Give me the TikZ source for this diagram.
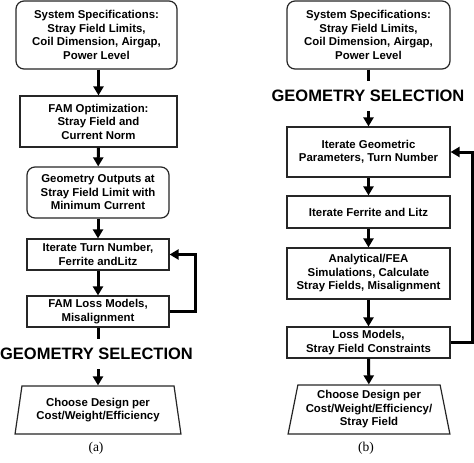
\documentclass[tikz,border=0pt]{standalone}
\usepackage{fontspec}
\setmainfont{Liberation Sans}
\newfontfamily\capfont{Liberation Serif}
\usetikzlibrary{arrows.meta,shapes.geometric}
\begin{document}
\begin{tikzpicture}[x=1pt,y=-1pt,
  boxbase/.style={draw=black!85,line width=1.2pt,fill=white,align=center,
    font=\fontsize{11.4}{13.5}\selectfont\bfseries,inner sep=0pt},
  rbox/.style={boxbase,rounded corners=8pt},
  sbox/.style={boxbase},
  tbox/.style={boxbase,trapezium,trapezium stretches=true,trapezium angle=77},
  gsel/.style={font=\fontsize{16.5}{18}\selectfont\bfseries,inner xsep=0pt,inner ysep=9pt},
  flow/.style={line width=3pt,-{Triangle[width=10pt,length=9pt]}},
  stub/.style={line width=3pt},
  captext/.style={font=\capfont\fontsize{13.5}{15}\selectfont}]
\useasboundingbox (0,0) rectangle (474,463);
% ---- left (a)
\node[rbox,minimum width=161pt,minimum height=68pt] (L1) at (96.5,35)
  {System Specifications:\\Stray Field Limits,\\Coil Dimension, Airgap,\\Power Level};
\node[sbox,minimum width=157pt,minimum height=51pt] (L2) at (98.5,121.5)
  {FAM Optimization:\\Stray Field and\\Current Norm};
\node[rbox,minimum width=142pt,minimum height=51pt] (L3) at (98,192.5)
  {Geometry Outputs at\\Stray Field Limit with\\Minimum Current};
\node[sbox,minimum width=142pt,minimum height=31pt] (L4) at (98,254.5)
  {Iterate Turn Number,\\Ferrite andLitz};
\node[sbox,minimum width=142pt,minimum height=31pt] (L5) at (98,311.5)
  {FAM Loss Models,\\Misalignment};
\node[gsel] (LG) at (96.5,354) {GEOMETRY SELECTION};
\node[tbox,minimum width=166pt,minimum height=48pt] (L6) at (98,410)
  {Choose Design per\\Cost/Weight/Efficiency};
\node[captext] (LC) at (96,448) {(a)};
\coordinate (LF1) at (195,311.5);
\coordinate (LF2) at (195,254.5);
\draw[flow] (L1.south -| L2.north) -- (L2.north);
\draw[flow] (L2) -- (L3);
\draw[flow] (L3) -- (L4);
\draw[flow] (L4) -- (L5);
\draw[stub] (L5.south) -- (L5.south |- LG.north);
\draw[flow] (L5.south |- LG.south) -- (L5.south |- L6.north);
\draw[flow] (L5.east) -- (LF1) -- (LF2) -- (L4.east);
% ---- right (b)
\node[rbox,minimum width=163pt,minimum height=68pt] (R1) at (368.5,35)
  {System Specifications:\\Stray Field Limits,\\Coil Dimension, Airgap,\\Power Level};
\node[gsel] (RG) at (368,96) {GEOMETRY SELECTION};
\node[sbox,minimum width=163pt,minimum height=50pt] (R2) at (368.5,152)
  {Iterate Geometric\\Parameters, Turn Number};
\node[sbox,minimum width=163pt,minimum height=32pt] (R3) at (368.5,212)
  {Iterate Ferrite and Litz};
\node[sbox,minimum width=163pt,minimum height=51pt] (R4) at (368.5,273.5)
  {Analytical/FEA\\Simulations, Calculate\\Stray Fields, Misalignment};
\node[sbox,minimum width=163pt,minimum height=31pt] (R5) at (368.5,342.5)
  {Loss Models,\\Stray Field Constraints};
\node[tbox,minimum width=162pt,minimum height=49pt] (R6) at (369,409.5)
  {Choose Design per\\Cost/Weight/Efficiency/\\Stray Field};
\node[captext] (RC) at (366,448) {(b)};
\coordinate (RF1) at (472,342.5);
\coordinate (RF2) at (472,152);
\draw[stub] (R1.south) -- (R1.south |- RG.north);
\draw[flow] (R1.south |- RG.south) -- (R2.north);
\draw[flow] (R2) -- (R3);
\draw[flow] (R3) -- (R4);
\draw[flow] (R4) -- (R5);
\draw[flow] (R5) -- (R6);
\draw[flow] (R5.east) -- (RF1) -- (RF2) -- (R2.east);
\end{tikzpicture}
\end{document}
